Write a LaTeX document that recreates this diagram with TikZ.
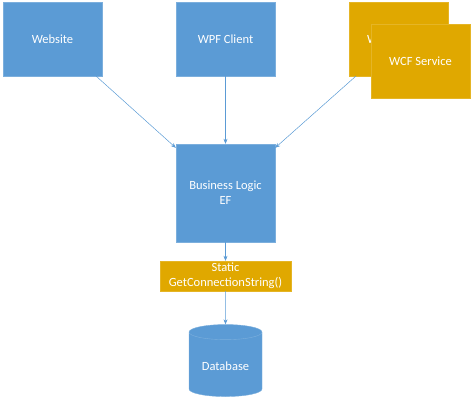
\documentclass[tikz,border=0pt]{standalone}
\usepackage{fontspec}
\setmainfont{Carlito}
\usetikzlibrary{
  positioning, arrows.meta, shapes.geometric
}
\definecolor{boxblue}{RGB}{91,155,213}
\definecolor{boxgold}{RGB}{224,168,0}
\tikzset{
  bluebox/.style={rectangle, fill=boxblue, draw=boxblue!80!white, line width=0.4pt, text=white, align=center, font=\fontsize{12.5}{15}\selectfont},
  goldbox/.style={bluebox, fill=boxgold, draw=boxgold!85!white},
  flow/.style={-{Stealth[length=5pt,width=4pt]}, draw=boxblue, line width=0.5pt}
}
\begin{document}
\begin{tikzpicture}[x=1pt,y=1pt]
      \useasboundingbox (0,0) rectangle (474,413);
      % top row of clients
      \node[bluebox, minimum width=99pt, minimum height=74pt] (web) at (52.5,374) {Website};
      \node[bluebox, minimum width=99pt, minimum height=74pt] (wpf) at (225.5,374) {WPF Client};
      \node[goldbox, minimum width=99pt, minimum height=74pt] (wcfback) at (398.5,374) {WCF Service};
      \node[goldbox, minimum width=99pt, minimum height=74pt] (wcf) at (420.5,352) {WCF Service};
      % middle
      \node[bluebox, minimum width=99pt, minimum height=98pt] (bl) at (225.5,220) {Business Logic\\EF};
      \node[goldbox, minimum width=131pt, minimum height=30pt, inner sep=0pt] (stat) at (225.5,137) {Static\\GetConnectionString()};
      \node[bluebox, cylinder, shape border rotate=90, aspect=0.28, minimum width=73pt, minimum height=72pt] (db) at (225.5,47) {Database};
      % connectors
      \draw[flow] ([xshift=-6pt]web.south east) -- ([yshift=-4pt]bl.north west);
      \draw[flow] (wpf.south) -- (bl.north);
      \draw[flow] ([xshift=7pt]wcfback.south west) -- ([yshift=-4pt]bl.north east);
      \draw[flow] (bl.south) -- (stat.north);
      \draw[flow] (stat.south) -- (db.north);
    \end{tikzpicture}
\end{document}
